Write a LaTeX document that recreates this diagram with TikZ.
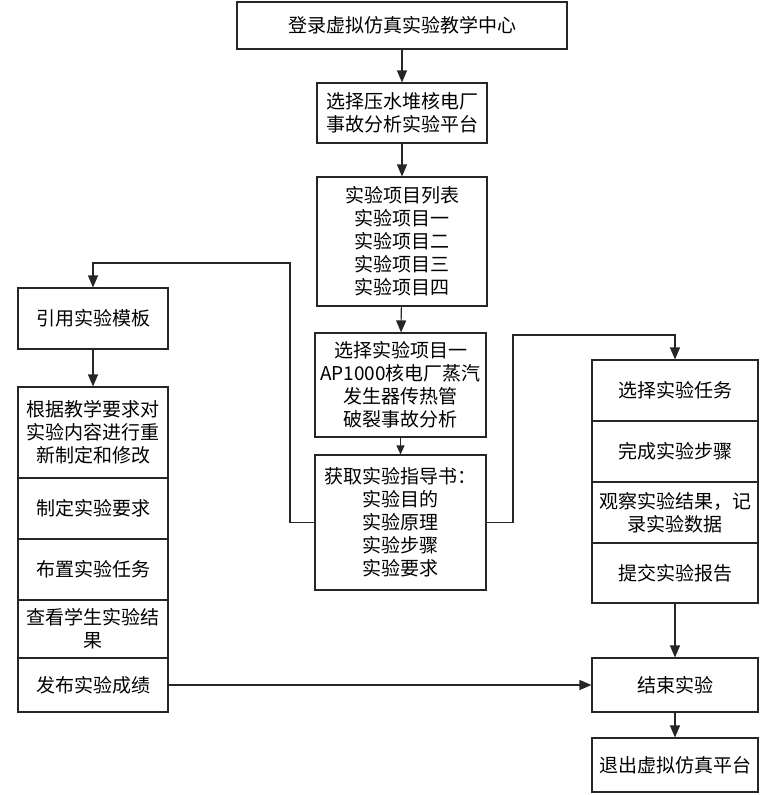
\documentclass[tikz,border=0pt]{standalone}
\usepackage{fontspec}
\setmainfont{Noto Sans CJK SC}
\usetikzlibrary{arrows.meta,calc}
\tikzset{
  bx/.style={draw=black!85,line width=1.1pt,fill=white,align=center,inner sep=0pt,
    font=\fontsize{19}{23}\selectfont},
  arr/.style={draw=black!85,line width=1.1pt,-{Triangle[width=10pt,length=12pt]}},
  ln/.style={draw=black!85,line width=1.1pt}
}
\begin{document}
\begin{tikzpicture}[x=1pt,y=-1pt]
\useasboundingbox (0,0) rectangle (765,795);
% central column
\node[bx,minimum width=330pt,minimum height=47pt] (b1) at (402,25.5) {登录虚拟仿真实验教学中心};
\node[bx,minimum width=170pt,minimum height=60pt] (b2) at (402,113) {选择压水堆核电厂\\事故分析实验平台};
\node[bx,minimum width=170pt,minimum height=129pt] (b3) at (402,241.5) {实验项目列表\\实验项目一\\实验项目二\\实验项目三\\实验项目四};
\node[bx,minimum width=171pt,minimum height=104pt] (b4) at (400.5,385) {选择实验项目一\\AP1000核电厂蒸汽\\发生器传热管\\破裂事故分析};
\node[bx,minimum width=171pt,minimum height=135pt] (b5) at (400.5,522.5) {获取实验指导书：\\实验目的\\实验原理\\实验步骤\\实验要求};
% left column
\node[bx,minimum width=150pt,minimum height=61pt] (l0) at (93,318.5) {引用实验模板};
\node[bx,minimum width=150pt,minimum height=91pt] (l1) at (93,432.5) {根据教学要求对\\实验内容进行重\\新制定和修改};
\node[bx,minimum width=150pt,minimum height=61pt] (l2) at (93,508.5) {制定实验要求};
\node[bx,minimum width=150pt,minimum height=61pt] (l3) at (93,569.5) {布置实验任务};
\node[bx,minimum width=150pt,minimum height=58pt] (l4) at (93,629) {查看学生实验结\\果};
\node[bx,minimum width=150pt,minimum height=54pt] (l5) at (93,685) {发布实验成绩};
% right column
\node[bx,minimum width=166pt,minimum height=61pt] (r1) at (675,390.5) {选择实验任务};
\node[bx,minimum width=166pt,minimum height=61pt] (r2) at (675,451.5) {完成实验步骤};
\node[bx,minimum width=166pt,minimum height=61pt] (r3) at (675,512.5) {观察实验结果，记\\录实验数据};
\node[bx,minimum width=166pt,minimum height=60pt] (r4) at (675,573) {提交实验报告};
\node[bx,minimum width=166pt,minimum height=54pt] (e1) at (675,685) {结束实验};
\node[bx,minimum width=166pt,minimum height=54pt] (e2) at (675,765) {退出虚拟仿真平台};
% helper coordinates
\coordinate (cl1) at (290,522.5);
\coordinate (cl2) at (290,263);
\coordinate (cr1) at (513,522.5);
\coordinate (cr2) at (513,335);
% connectors
\draw[arr] (b1) -- (b2);
\draw[arr] (b2) -- (b3);
\draw[arr] (b3) -- (b4);
\draw[arr,-{Triangle[width=8pt,length=9pt]}] (b4) -- (b5);
\draw[arr] (b5.west) -- (cl1) -- (cl2) -| (l0.north);
\draw[arr] (l0) -- (l1);
\draw[arr] (b5.east) -- (cr1) -- (cr2) -| (r1.north);
\draw[arr] (r4) -- (e1);
\draw[arr] (e1) -- (e2);
\draw[arr] (l5) -- (e1);
\end{tikzpicture}
\end{document}
